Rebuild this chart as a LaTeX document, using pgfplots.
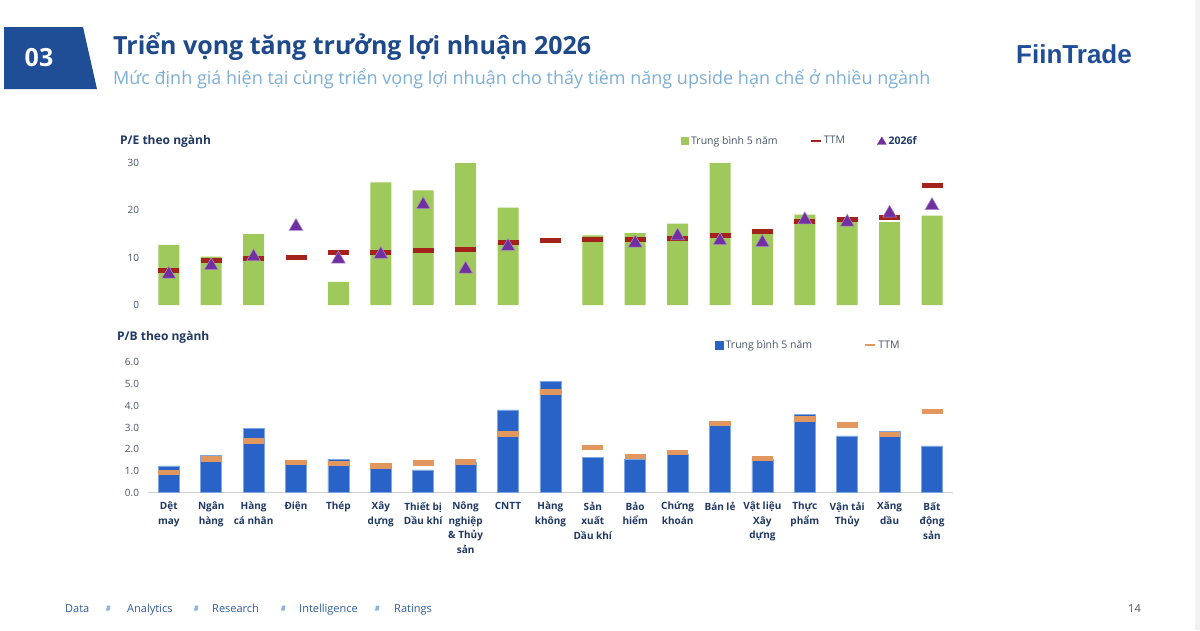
\documentclass[border=0pt]{standalone}
\usepackage{pgfplots}
\pgfplotsset{compat=1.18}
\usepackage{pgfplotstable}
\usepackage{fontspec}
\setmainfont{Open Sans}
\newfontfamily\logofont{Liberation Sans}

\definecolor{badge}{HTML}{1F4E96}
\definecolor{titleblue}{HTML}{1F4A8A}
\definecolor{subblue}{HTML}{7EAFD6}
\definecolor{navy}{HTML}{1F3864}
\definecolor{tickgray}{HTML}{4A5568}
\definecolor{pebar}{HTML}{9FC95A}
\definecolor{ttmred}{HTML}{A3221B}
\definecolor{fpurple}{HTML}{7030A0}
\definecolor{pbbar}{HTML}{2A63C8}
\definecolor{pbedge}{HTML}{7FA6E0}
\definecolor{ttmorange}{HTML}{E2975E}
\definecolor{footblue}{HTML}{2F5C9A}
\definecolor{sepblue}{HTML}{8FB4E0}

% P/E by sector: 5-year average, trailing twelve months, 2026 forecast
\pgfplotstableread{
idx avg  ttm  f
0   12.7 7.2  6.5
1   10.2 9.5  8.3
2   15.0 9.9  10.2
3   nan  10.0 16.6
4   4.9  11.1 9.7
5   25.9 11.1 10.7
6   24.2 11.5 21.2
7   30.0 11.7 7.6
8   20.6 13.3 12.4
9   nan  13.6 nan
10  14.7 13.8 nan
11  15.2 13.8 13.1
12  17.2 14.0 14.6
13  30.0 14.7 13.6
14  15.0 15.5 13.2
15  19.1 17.7 18.0
16  17.9 18.1 17.5
17  17.5 18.4 19.4
18  18.9 25.2 21.0
}\petable

% P/B by sector: 5-year average, trailing twelve months
\pgfplotstableread{
idx avg  ttm
0   1.23 0.92
1   1.72 1.54
2   2.95 2.38
3   1.49 1.40
4   1.55 1.35
5   1.35 1.24
6   1.05 1.37
7   1.40 1.42
8   3.81 2.69
9   5.13 4.64
10  1.63 2.09
11  1.55 1.66
12  1.78 1.86
13  3.27 3.18
14  1.55 1.58
15  3.62 3.40
16  2.61 3.12
17  2.81 2.67
18  2.15 3.73
}\pbtable

\pgfplotsset{
  sector/.style={
    scale only axis, width=805.6pt, xmin=-0.5, xmax=18.5, ymin=0,
    anchor=south west, clip=false,
    axis line style={draw=none}, tick style={draw=none},
    xtick=\empty,
    /pgf/number format/assume math mode=true,
    yticklabel style={font=\fontsize{10}{12}\selectfont, text=tickgray, anchor=east, xshift=-5pt},
    legend style={draw=none, fill=none, inner sep=0pt, font=\fontsize{10.5}{12}\selectfont,
      text=tickgray, legend columns=-1, anchor=west, legend cell align=left},
  }
}

\begin{document}
\begin{tikzpicture}
\fill[white] (0,0) rectangle (1200pt,-630pt);
\path[use as bounding box] (0,0) rectangle (1200pt,-630pt);
\fill[black!5] (1195pt,0) rectangle (1200pt,-630pt);

% header
\fill[badge] (4pt,-27pt) -- (83pt,-27pt) -- (97pt,-89pt) -- (4pt,-89pt) -- cycle;
\node[text=white, font=\fontsize{25}{30}\selectfont\bfseries] at (39pt,-58pt) {03};
\node[anchor=base west, inner sep=0pt, text=titleblue, font=\fontsize{25}{29}\selectfont\bfseries]
  at (113pt,-54pt) {Triển vọng tăng trưởng lợi nhuận 2026};
\node[anchor=base west, inner sep=0pt, text=subblue, font=\fontsize{18}{21}\selectfont]
  at (113pt,-84pt) {Mức định giá hiện tại cùng triển vọng lợi nhuận cho thấy tiềm năng upside hạn chế ở nhiều ngành};
\node[anchor=base west, inner sep=0pt, text=badge, font=\logofont\fontsize{26}{30}\selectfont\bfseries]
  at (1016pt,-63.3pt) {FiinTrade};

% panel titles
\node[anchor=west, inner sep=0pt, text=navy, font=\fontsize{12}{14}\selectfont\bfseries]
  at (120pt,-141pt) {P/E theo ngành};
\node[anchor=west, inner sep=0pt, text=navy, font=\fontsize{12}{14}\selectfont\bfseries]
  at (117pt,-337pt) {P/B theo ngành};

% P/E panel
\begin{axis}[sector, at={(147.6pt,-305pt)}, height=142pt, ymax=30, ytick={0,10,20,30},
  legend style={at={(0.6621,1.155)}, /tikz/every even column/.append style={column sep=30pt}}]
\addplot[ybar, bar width=21pt, bar shift=0pt, fill=pebar, draw=none,
  legend image code/.code={\fill[pebar] (0pt,-4pt) rectangle (8pt,4pt);}]
  table[x=idx, y=avg] {\petable};
\addlegendentry{Trung bình 5 năm}
\addplot[only marks, mark=-, mark size=10.5pt, mark options={draw=ttmred, line width=5pt},
  legend image code/.code={\draw[ttmred, line width=2.2pt] (0pt,0pt) -- (10pt,0pt);}]
  table[x=idx, y=ttm] {\petable};
\addlegendentry{TTM}
\addplot[only marks, mark=triangle*, mark size=8pt, mark options={fill=fpurple, draw=fpurple!55, line width=0.5pt},
  legend image code/.code={\fill[fpurple] (0pt,-3.5pt) -- (9pt,-3.5pt) -- (4.5pt,4pt) -- cycle;}]
  table[x=idx, y=f] {\petable};
\addlegendentry{\textcolor{navy}{\bfseries 2026f}}
\end{axis}

% P/B panel
\begin{axis}[sector, at={(147.6pt,-492.7pt)}, height=130.4pt, ymax=6, ytick={0,1,...,6},
  yticklabel style={/pgf/number format/fixed, /pgf/number format/fixed zerofill, /pgf/number format/precision=1},
  extra y ticks={0}, extra y tick labels={}, extra y tick style={grid=major, major grid style={black!18, line width=0.8pt}},
  xtick={0,...,18},
  xticklabels={{Dệt\\may},{Ngân\\hàng},{Hàng\\cá nhân},{Điện},{Thép},{Xây\\dựng},{Thiết bị\\Dầu khí},
    {Nông\\nghiệp\\\& Thủy\\sản},{CNTT},{Hàng\\không},{Sản\\xuất\\Dầu khí},{Bảo\\hiểm},{Chứng\\khoán},
    {Bán lẻ},{Vật liệu\\Xây\\dựng},{Thực\\phẩm},{Vận tải\\Thủy},{Xăng\\dầu},{Bất\\động\\sản}},
  xticklabel style={font=\fontsize{10}{14.5}\selectfont\bfseries, text=navy, align=center, anchor=north, inner sep=0pt, yshift=-9pt},
  legend style={at={(0.7043,1.1327)}, /tikz/every even column/.append style={column sep=50pt}}]
\addplot[ybar, bar width=21pt, bar shift=0pt, fill=pbbar, draw=pbedge, line width=0.5pt,
  legend image code/.code={\fill[pbbar] (0pt,-4pt) rectangle (8pt,4pt);}]
  table[x=idx, y=avg] {\pbtable};
\addlegendentry{Trung bình 5 năm}
\addplot[only marks, mark=-, mark size=10.5pt, mark options={draw=ttmorange, line width=5.5pt},
  legend image code/.code={\draw[ttmorange, line width=2.2pt] (0pt,0pt) -- (10pt,0pt);}]
  table[x=idx, y=ttm] {\pbtable};
\addlegendentry{TTM}
\end{axis}

% footer
\begin{scope}[every node/.style={anchor=base west, inner sep=0pt, text=footblue, font=\fontsize{11}{13}\selectfont}]
\node at (65pt,-612pt) {Data};
\node at (127pt,-612pt) {Analytics};
\node at (212pt,-612pt) {Research};
\node at (299pt,-612pt) {Intelligence};
\node at (394pt,-612pt) {Ratings};
\node[text=tickgray] at (1128pt,-612pt) {14};
\end{scope}
\foreach \sx in {108,196,283,377} {
  \fill[sepblue] (\sx pt-2pt,-610.5pt) -- (\sx pt+1.5pt,-610.5pt) -- (\sx pt+2.5pt,-605.5pt) -- (\sx pt-1pt,-605.5pt) -- cycle;
}
\end{tikzpicture}
\end{document}
